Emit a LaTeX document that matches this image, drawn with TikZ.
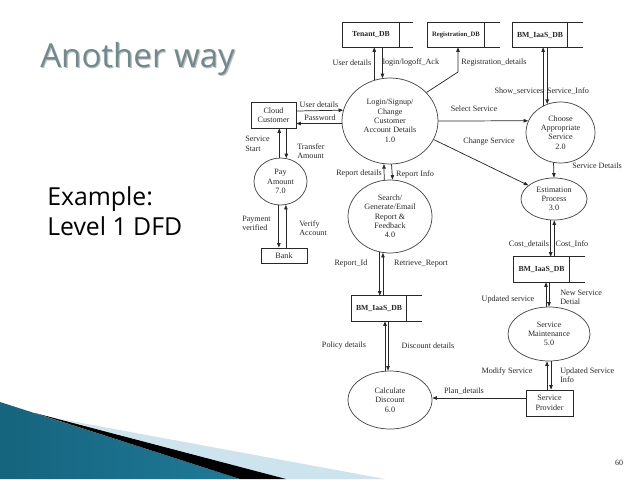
\documentclass[tikz,border=0pt]{standalone}
\usepackage{fontspec}
\setmainfont{Liberation Serif}
\newfontfamily\titlefont{Open Sans}
\usetikzlibrary{arrows.meta,shapes.geometric}
\definecolor{titlecol}{RGB}{112,137,141}
\definecolor{tealdark}{RGB}{22,100,126}
\definecolor{teallight}{RGB}{72,172,206}
\definecolor{tealmid}{RGB}{30,122,152}
\definecolor{paleblue}{RGB}{205,228,238}
\definecolor{ink}{RGB}{40,40,40}
\newcommand{\storebox}[2]{\draw[storeline] ([xshift=#2]#1.north east) -- (#1.north west) -- (#1.south west) -- ([xshift=#2]#1.south east) (#1.north east) -- (#1.south east);}
\begin{document}
\begin{tikzpicture}[x=0.75pt,y=-0.75pt,
  lbl/.style={font=\fontsize{6.1}{7}\selectfont, inner sep=0pt, text=ink},
  lbll/.style={lbl, align=left, anchor=west},
  proc/.style={ellipse, draw=ink!85, line width=0.55pt, inner sep=0pt, align=center,
    font=\fontsize{6.1}{7}\selectfont, text=ink},
  ext/.style={rectangle, draw=ink, line width=0.55pt, inner sep=0pt, align=center,
    font=\fontsize{6.1}{7}\selectfont, text=ink},
  store/.style={rectangle, inner sep=0pt, font=\fontsize{5.8}{7}\selectfont\bfseries, text=ink},
  storeline/.style={draw=ink, line width=0.55pt},
  arr/.style={draw=ink, line width=0.55pt, -{Triangle[length=3.4pt,width=2.6pt]}}
]
\useasboundingbox (0,0) rectangle (638,479);
\fill[white] (0,0) rectangle (638,479);

% decoration
\shade[left color=tealdark, middle color=teallight, right color=tealmid] (0,402) -- (240,479) -- (0,479) -- cycle;
\fill[paleblue] (60,419) -- (385,479) -- (286,479) -- cycle;
\fill[black] (35,413) -- (286,479) -- (240,479) -- cycle;

% title and side text
\node[anchor=base west, inner sep=0pt, font=\titlefont\fontsize{24.8}{28}\selectfont, text=black!25] at (41.2,68.2) {Another way};
\node (title) [anchor=base west, inner sep=0pt, font=\titlefont\fontsize{24.8}{28}\selectfont, text=titlecol] at (40,67) {Another way};
\node (ex1) [anchor=base west, inner sep=0pt, font=\titlefont\fontsize{18.6}{22}\selectfont] at (47,205) {Example:};
\node (ex2) [anchor=base west, inner sep=0pt, font=\titlefont\fontsize{18.6}{22}\selectfont] at (47,235) {Level 1 DFD};
\node (pg) [inner sep=0pt, font=\fontsize{6}{7}\selectfont, text=ink] at (619,463) {60};

% data stores
\node (tdb) [store, minimum width=42pt, minimum height=18pt] at (371,35) {Tenant\_DB};
\node (rdb) [store, minimum width=42pt, minimum height=18pt, font=\fontsize{5}{6}\selectfont\bfseries] at (456,35) {Registration\_DB};
\node (bdb1) [store, minimum width=40.5pt, minimum height=18pt] at (540,35) {BM\_IaaS\_DB};
\node (bdb2) [store, minimum width=41.25pt, minimum height=18.75pt] at (541.5,269.5) {BM\_IaaS\_DB};
\node (bdb3) [store, minimum width=40.5pt, minimum height=18.75pt] at (379,308.5) {BM\_IaaS\_DB};
\storebox{tdb}{10.5pt}
\storebox{rdb}{12pt}
\storebox{bdb1}{12pt}
\storebox{bdb2}{12pt}
\storebox{bdb3}{12pt}

% processes
\node (login) [proc, minimum width=72pt, minimum height=64.5pt] at (390,121) {Login/Signup/\\Change\\Customer\\Account Details\\1.0};
\node (choose) [proc, minimum width=51.75pt, minimum height=45.75pt] at (560.5,132.5) {Choose\\Appropriate\\Service\\2.0};
\node (est) [proc, minimum width=49.5pt, minimum height=31.5pt] at (554,199) {Estimation\\Process\\3.0};
\node (search) [proc, minimum width=63pt, minimum height=54.75pt] at (390,216.5) {Search/\\Generate/Email\\Report \&\\Feedback\\4.0};
\node (maint) [proc, minimum width=61.5pt, minimum height=40.5pt] at (549,334) {Service\\Maintenance\\5.0};
\node (calc) [proc, minimum width=63pt, minimum height=43.5pt] at (390,400) {Calculate\\Discount\\6.0};
\node (pay) [proc, minimum width=39.75pt, minimum height=35.25pt] at (280.5,181.5) {Pay\\Amount\\7.0};

% external entities
\node (cloud) [ext, minimum width=33.75pt, minimum height=19.5pt] at (273.5,115) {Cloud\\Customer};
\node (bank) [ext, minimum width=34.5pt, minimum height=11.25pt] at (284,255.5) {Bank};
\node (provider) [ext, minimum width=35.25pt, minimum height=19.5pt] at (549.5,403) {Service\\Provider};

% connectors
\draw[arr] (login.111.54) -- (login.111.54 |- tdb.south);
\draw[arr] (login.100.68 |- tdb.south) -- (login.100.68);
\coordinate (rbend) at (458,72);
\draw[arr] (login.38) -- (rbend) -- (rbend |- rdb.south);
\draw[arr] (choose.123.66) -- (choose.123.66 |- bdb1.south);
\draw[arr] (choose.115.68 |- bdb1.south) -- (choose.115.68);
\draw[arr] (login.east) -- (choose.160.2);
\draw[arr] (login.-23) -- (est.152);
\draw[arr] (choose.257.75) -- (est.north);
\draw[arr] ([xshift=-2.5pt]est.south) -- ([xshift=-2.5pt]est.south |- bdb2.north);
\draw[arr] ([xshift=0.2pt]est.south |- bdb2.north) -- ([xshift=0.2pt]est.south);
\draw[arr] ([xshift=-2.25pt]maint.north) -- ([xshift=-2.25pt]maint.north |- bdb2.south);
\draw[arr] (maint.north |- bdb2.south) -- (maint.north);
\draw[arr] ([xshift=-1.5pt]maint.south |- provider.north) -- ([xshift=-1.5pt]maint.south);
\draw[arr] ([xshift=1.5pt]maint.south) -- ([xshift=1.5pt]maint.south |- provider.north);
\draw[arr] ([yshift=3.75pt]provider.west) -- ([yshift=3.75pt]provider.west -| calc.east);
\draw[arr] ([xshift=-3.75pt]calc.north) -- ([xshift=-3.75pt]calc.north |- bdb3.south);
\draw[arr] ([xshift=-1.5pt]calc.north |- bdb3.south) -- ([xshift=-1.5pt]calc.north);
\draw[arr] (search.254.24) -- (search.254.24 |- bdb3.north);
\draw[arr] (search.259 |- bdb3.north) -- (search.259);
\draw[arr] (search.99.43) -- (login.262);
\draw[arr] (login.272.67) -- (search.86.86);
\draw[arr] ([yshift=3pt]cloud.east) -- (login.167.91);
\draw[arr] (login.183.59) -- (login.183.59 -| cloud.east);
\draw[arr] (pay.93.66) -- (pay.93.66 |- cloud.south);
\draw[arr] (pay.76.55 |- cloud.south) -- (pay.76.55);
\draw[arr] (pay.266.34) -- (pay.266.34 |- bank.north);
\draw[arr] (pay.283.45 |- bank.north) -- (pay.283.45);

% labels
\node (l1) [lbl] at (352,63) {User details};
\node (l2) [lbl] at (411,63) {login/logoff\_Ack};
\node (l3) [lbl] at (494,63) {Registration\_details};
\node (l4) [lbl] at (519,91) {Show\_services};
\node (l5) [lbl] at (568,91) {Service\_Info};
\node (l6) [lbl] at (474,109) {Select Service};
\node (l7) [lbl] at (489,142) {Change Service};
\node (l8) [lbl] at (597,166) {Service Details};
\node (l9) [lbl] at (319,105) {User details};
\node (l10) [lbl] at (320,118) {Password};
\node (l11) [lbll] at (245,144) {Service\\Start};
\node (l12) [lbll] at (297,151) {Transfer\\Amount};
\node (l13) [lbl] at (359,174) {Report details};
\node (l14) [lbl] at (415,174) {Report Info};
\node (l15) [lbll] at (242,223.5) {Payment\\verified};
\node (l16) [lbll] at (299,228.5) {Verify\\Account};
\node (l17) [lbl] at (351,264) {Report\_Id};
\node (l18) [lbl] at (421,264) {Retrieve\_Report};
\node (l19) [lbl] at (344,346) {Policy details};
\node (l20) [lbl] at (428,346) {Discount details};
\node (l21) [lbl] at (464,391) {Plan\_details};
\node (l22) [lbl] at (529,244) {Cost\_details};
\node (l23) [lbl] at (572,244) {Cost\_Info};
\node (l24) [lbl] at (508,300) {Updated service};
\node (l25) [lbll] at (560,297.5) {New Service\\Detial};
\node (l26) [lbl] at (507,372) {Modify Service};
\node (l27) [lbll] at (560,375.5) {Updated Service\\Info};
\end{tikzpicture}
\end{document}
